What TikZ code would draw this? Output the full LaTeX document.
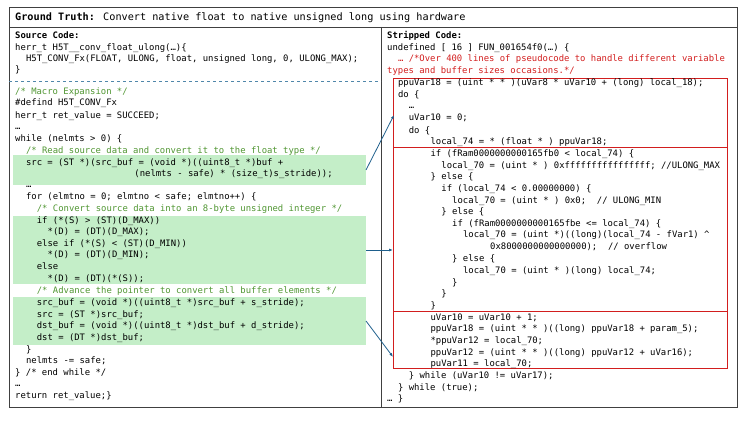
\documentclass[tikz,border=0pt]{standalone}
\usepackage{fontspec}
\usetikzlibrary{arrows.meta}
\newfontfamily\codefont{DejaVu Sans Mono}
\definecolor{cgreen}{RGB}{196,238,200}
\definecolor{ccom}{RGB}{80,150,50}
\definecolor{cred}{RGB}{210,30,30}
\definecolor{cblue}{RGB}{30,95,140}
\definecolor{cdash}{RGB}{80,135,170}
\newcommand{\cw}{5.42}
\newcommand{\LL}[3]{\node[code] at ({15+#2*\cw},{#1+3}) {#3};}
\newcommand{\RL}[3]{\node[code] at ({387+#2*\cw},{#1+3}) {#3};}
\begin{document}
\begin{tikzpicture}[x=1pt,y=-1pt,
  code/.style={anchor=base west,inner sep=0pt,font=\codefont\fontsize{8.9}{10}\selectfont},
  frame/.style={draw=black!75,line width=0.8pt},
  gbox/.style={fill=cgreen,draw=none},
  rbox/.style={draw=cred,line width=0.9pt},
  link/.style={draw=cblue,line width=0.8pt,-{Latex[length=4pt,width=3pt]}}]
\useasboundingbox (0,0) rectangle (743,441);
% green boxes
\fill[gbox] (13,155) rectangle (366,185);
\fill[gbox] (13,216) rectangle (366,284);
\fill[gbox] (13,297) rectangle (366,345);
% frames
\draw[frame] (9,7) rectangle (737,407);
\draw[frame] (9,27) -- (737,27);
\draw[frame] (381.5,27) -- (381.5,407);
\draw[draw=cdash,dashed,line width=0.8pt] (9,81) -- (381,81);
% red boxes
\draw[rbox] (393,78) rectangle (727,147);
\draw[rbox] (393,147) rectangle (727,311);
\draw[rbox] (393,311) rectangle (727,368);
\coordinate (g1) at (366,170);
\coordinate (g2) at (366,250);
\coordinate (g3) at (366,321);
\coordinate (r1) at (394,115);
\coordinate (r2) at (393,250);
\coordinate (r3) at (393,357);
\draw[link] (g1) -- (r1);
\draw[link] (g2) -- (r2);
\draw[link] (g3) -- (r3);
% title
\node[code,font=\codefont\fontsize{10.2}{12}\selectfont] (title) at (15,21) {\textbf{Ground Truth:} Convert native float to native unsigned long using hardware};
% left
\LL{36}{0}{\textbf{Source Code:}}
\LL{48}{0}{herr\_t H5T\_\_conv\_float\_ulong(…)\{}
\LL{59}{2}{H5T\_CONV\_Fx(FLOAT, ULONG, float, unsigned long, 0, ULONG\_MAX);}
\LL{70}{0}{\}}
\LL{92}{0}{\color{ccom}/* Macro Expansion */}
\LL{103}{0}{\#defind H5T\_CONV\_Fx}
\LL{115}{0}{herr\_t ret\_value = SUCCEED;}
\LL{126}{0}{…}
\LL{138}{0}{while (nelmts > 0) \{}
\LL{150}{2}{\color{ccom}/* Read source data and convert it to the float type */}
\LL{162}{2}{src = (ST *)(src\_buf = (void *)((uint8\_t *)buf +}
\LL{173}{22}{(nelmts - safe) * (size\_t)s\_stride));}
\LL{184}{2}{…}
\LL{196}{2}{for (elmtno = 0; elmtno < safe; elmtno++) \{}
\LL{208}{4}{\color{ccom}/* Convert source data into an 8-byte unsigned integer */}
\LL{220}{4}{if (*(S) > (ST)(D\_MAX))}
\LL{231}{6}{*(D) = (DT)(D\_MAX);}
\LL{243}{4}{else if (*(S) < (ST)(D\_MIN))}
\LL{254}{6}{*(D) = (DT)(D\_MIN);}
\LL{266}{4}{else}
\LL{278}{6}{*(D) = (DT)(*(S));}
\LL{290}{4}{\color{ccom}/* Advance the pointer to convert all buffer elements */}
\LL{302}{4}{src\_buf = (void *)((uint8\_t *)src\_buf + s\_stride);}
\LL{314}{4}{src = (ST *)src\_buf;}
\LL{325}{4}{dst\_buf = (void *)((uint8\_t *)dst\_buf + d\_stride);}
\LL{337}{4}{dst = (DT *)dst\_buf;}
\LL{349}{2}{\}}
\LL{360}{2}{nelmts -= safe;}
\LL{372}{0}{\} /* end while */}
\LL{383}{0}{…}
\LL{395}{0}{return ret\_value;\}}
% right
\RL{36}{0}{\textbf{Stripped Code:}}
\RL{48}{0}{undefined [ 16 ] FUN\_001654f0(…) \{}
\RL{59}{2}{\color{cred}… /*Over 400 lines of pseudocode to handle different variable}
\RL{71}{0}{\color{cred}types and buffer sizes occasions.*/}
\RL{83}{2}{ppuVar18 = (uint * * )(uVar8 * uVar10 + (long) local\_18);}
\RL{95}{2}{do \{}
\RL{106}{4}{…}
\RL{118}{4}{uVar10 = 0;}
\RL{130}{4}{do \{}
\RL{141}{8}{local\_74 = * (float * ) ppuVar18;}
\RL{153}{8}{if (fRam0000000000165fb0 < local\_74) \{}
\RL{165}{10}{local\_70 = (uint * ) 0xffffffffffffffff; //ULONG\_MAX}
\RL{176}{8}{\} else \{}
\RL{188}{10}{if (local\_74 < 0.00000000) \{}
\RL{200}{12}{local\_70 = (uint * ) 0x0;\ \ // ULONG\_MIN}
\RL{211}{10}{\} else \{}
\RL{223}{12}{if (fRam0000000000165fbe <= local\_74) \{}
\RL{234}{14}{local\_70 = (uint *)((long)(local\_74 - fVar1) \textasciicircum}
\RL{246}{19}{0x8000000000000000);\ \ // overflow}
\RL{258}{12}{\} else \{}
\RL{270}{14}{local\_70 = (uint * )(long) local\_74;}
\RL{282}{12}{\}}
\RL{293}{10}{\}}
\RL{305}{8}{\}}
\RL{317}{8}{uVar10 = uVar10 + 1;}
\RL{328}{8}{ppuVar18 = (uint * * )((long) ppuVar18 + param\_5);}
\RL{340}{8}{*ppuVar12 = local\_70;}
\RL{352}{8}{ppuVar12 = (uint * * )((long) ppuVar12 + uVar16);}
\RL{363}{8}{puVar11 = local\_70;}
\RL{375}{4}{\} while (uVar10 != uVar17);}
\RL{387}{2}{\} while (true);}
\RL{398}{0}{… \}}
\end{tikzpicture}
\end{document}
